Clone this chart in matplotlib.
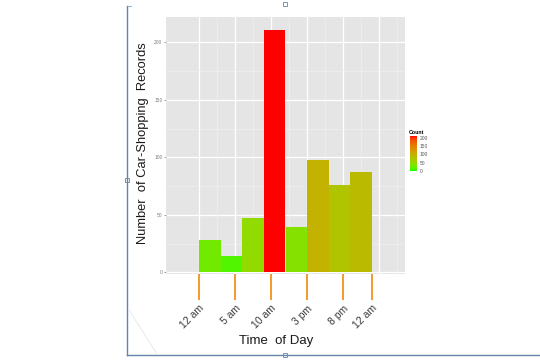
import numpy as np
import matplotlib
matplotlib.use('Agg')
import matplotlib.pyplot as plt
from matplotlib.colors import ListedColormap, Normalize
from matplotlib.lines import Line2D

# data: 3-hour bins of time of day
bin_start = [0, 3, 6, 9, 12, 15, 18, 21]
counts = [28, 14, 47, 211, 39, 98, 76, 87]
tick_hours = [0, 5, 10, 15, 20, 24]
tick_labels = ['12 am', '5 am', '10 am', '3 pm', '8 pm', '12 am']
bar_width = 3

plt.rcParams['font.family'] = ['Liberation Sans', 'DejaVu Sans']


# ggplot-like green -> red gradient (interpolated in Lab space)
def srgb_to_lab(c):
    c = np.asarray(c, float)
    lin = np.where(c <= 0.04045, c / 12.92, ((c + 0.055) / 1.055) ** 2.4)
    M = np.array([[0.4124, 0.3576, 0.1805],
                  [0.2126, 0.7152, 0.0722],
                  [0.0193, 0.1192, 0.9505]])
    xyz = M @ lin / np.array([0.95047, 1.0, 1.08883])
    f = np.where(xyz > 0.008856, np.cbrt(xyz), 7.787 * xyz + 16 / 116)
    return np.array([116 * f[1] - 16, 500 * (f[0] - f[1]), 200 * (f[1] - f[2])])


def lab_to_srgb(lab):
    L, a, b = lab
    fy = (L + 16) / 116
    fx = fy + a / 500
    fz = fy - b / 200
    f = np.array([fx, fy, fz])
    xyz = np.where(f ** 3 > 0.008856, f ** 3, (f - 16 / 116) / 7.787)
    xyz = xyz * np.array([0.95047, 1.0, 1.08883])
    Minv = np.array([[3.2406, -1.5372, -0.4986],
                     [-0.9689, 1.8758, 0.0415],
                     [0.0557, -0.2040, 1.0570]])
    lin = Minv @ xyz
    lin = np.clip(lin, 0, 1)
    c = np.where(lin <= 0.0031308, 12.92 * lin, 1.055 * lin ** (1 / 2.4) - 0.055)
    return np.clip(c, 0, 1)


lab_lo = srgb_to_lab([0, 1, 0])
lab_hi = srgb_to_lab([1, 0, 0])
cols = [lab_to_srgb(lab_lo + t * (lab_hi - lab_lo)) for t in np.linspace(0, 1, 256)]
cmap = ListedColormap(cols)
norm = Normalize(vmin=0, vmax=max(counts))

fig = plt.figure(figsize=(5.4, 3.64), dpi=100)
W, H = 540, 364
ax = fig.add_axes([166 / W, 1 - 274 / H, (405 - 166) / W, (274 - 17) / H])
ax.set_facecolor('#E5E5E5')

ax.bar(bin_start, counts, width=bar_width, align='edge',
       color=[cmap(norm(v)) for v in counts], zorder=3)

ax.set_xlim(-4.6, 28.6)
ax.set_ylim(-1.5, 222)

ax.set_xticks(tick_hours)
ax.set_xticklabels(tick_labels, rotation=45, ha='right', rotation_mode='anchor', fontsize=7.5, color='#3a3a3a')
ax.set_yticks([0, 50, 100, 150, 200])
ax.set_yticklabels(['0', '50', '100', '150', '200'], fontsize=3.5, color='#7F7F7F')
ax.tick_params(axis='x', length=19, width=1.4, color='#F39A2B', pad=2)
ax.tick_params(axis='y', length=1.5, width=0.5, color='#7F7F7F', pad=1)

for v in [0, 5, 10, 15, 20, 25]:
    ax.axvline(v, color='white', lw=0.9, zorder=1)
for v in [0, 50, 100, 150, 200]:
    ax.axhline(v, color='white', lw=0.9, zorder=1)
for v in [25, 75, 125, 175]:
    ax.axhline(v, color='#F2F2F2', lw=0.4, zorder=1)
for v in [2.5, 7.5, 12.5, 17.5, 22.5, 27.5]:
    ax.axvline(v, color='#F2F2F2', lw=0.4, zorder=1)

for s in ax.spines.values():
    s.set_visible(False)

fig.text(143 / W, 1 - 143 / H, 'Number  of Car-Shopping  Records', rotation=90,
         ha='center', va='center', fontsize=9.3, color='#1a1a1a')
fig.text(276 / W, 1 - 341 / H, 'Time  of Day', ha='center', va='center',
         fontsize=9.5, color='#1a1a1a')

# colour legend
cax = fig.add_axes([410 / W, 1 - 171 / H, 6.5 / W, 35 / H])
grad = np.linspace(0, max(counts), 200).reshape(-1, 1)
cax.imshow(grad, aspect='auto', cmap=cmap, norm=norm, origin='lower',
           extent=[0, 1, 0, max(counts)])
cax.set_xticks([])
cax.yaxis.tick_right()
cax.set_yticks([0, 50, 100, 150, 200])
cax.set_yticklabels(['0', '50', '100', '150', '200'], fontsize=3.5, color='#555555')
cax.tick_params(axis='y', length=1.2, width=0.4, color='white', pad=1)
for s in cax.spines.values():
    s.set_visible(False)
fig.text(409 / W, 1 - 132 / H, 'Count', fontsize=3.8, fontweight='bold', ha='left', va='center')

# document frame decorations
frame = '#6484AC'
fig.add_artist(Line2D([127 / W, 127 / W], [1 - 6 / H, 1 - 355 / H], color=frame, lw=1.0))
fig.add_artist(Line2D([127 / W, 1.0], [1 - 355 / H, 1 - 355 / H], color=frame, lw=1.0))
fig.add_artist(Line2D([128 / W, 131 / W], [1 - 6 / H, 1 - 6 / H], color='#9BB3CF', lw=0.8))
fig.add_artist(Line2D([129 / W, 157 / W], [1 - 310 / H, 1 - 354 / H], color='#E6E6E6', lw=0.6))
for (hx, hy) in [(285, 4), (285, 355), (127, 180)]:
    fig.add_artist(plt.Rectangle(((hx - 2) / W, 1 - (hy + 2) / H), 4 / W, 4 / H,
                                 transform=fig.transFigure, facecolor='white',
                                 edgecolor=frame, lw=0.6))

fig.savefig('out.png', dpi=100)
